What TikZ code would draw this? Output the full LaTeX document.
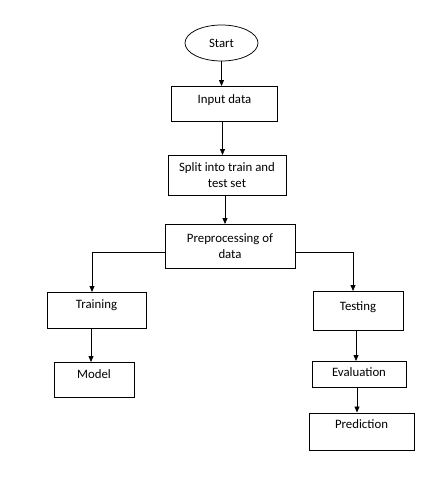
\documentclass[tikz,border=0pt]{standalone}
\usepackage{fontspec}
\setmainfont{Carlito}
\usetikzlibrary{arrows.meta,shapes.geometric}

\begin{document}
\begin{tikzpicture}[x=1pt,y=-1pt,
        box/.style={draw, line width=0.75pt, anchor=north, inner xsep=2pt, inner ysep=0pt, align=center, font=\fontsize{12.8}{16}\selectfont},
        arr/.style={-{Triangle[width=5pt,length=6pt]}, line width=0.75pt}]
        \useasboundingbox (0,0) rectangle (442,479);
        \node [ellipse, draw, line width=0.75pt, minimum width=73pt, minimum height=36pt, inner sep=0pt, font=\fontsize{12.8}{16}\selectfont] (start) at (221.5,43) {Start};
        \node [box, minimum width=106pt, text height=17pt, text depth=18pt] (input) at (224.5,86) {Input data};
        \node [box, minimum width=118pt, minimum height=40pt] (split) at (227,155) {Split into train and\\test set};
        \node [box, minimum width=130pt, minimum height=44pt] (pre) at (230,224) {Preprocessing of\\data};
        \node [box, minimum width=99pt, text height=16pt, text depth=20pt] (train) at (96.5,292) {Training};
        \node [box, minimum width=80pt, text height=16pt, text depth=19pt] (model) at (94,362) {Model};
        \node [box, minimum width=90pt, text height=19pt, text depth=20pt] (test) at (358,291) {Testing};
        \node [box, minimum width=94pt, text height=15pt, text depth=11pt] (eval) at (359,361) {Evaluation};
        \node [box, minimum width=105pt, text height=15.5pt, text depth=22pt] (pred) at (361.5,412.5) {Prediction};
        \draw [arr] (start.south) -- (start.south |- input.north);
        \draw [arr] ([xshift=-2pt]input.south) -- ([xshift=-2pt]input.south |- split.north);
        \draw [arr] ([xshift=-2pt]split.south) -- ([xshift=-2pt]split.south |- pre.north);
        \draw [arr] ([yshift=-6pt]pre.west) -| ([xshift=-4.5pt]train.north);
        \draw [arr] ([yshift=-6pt]pre.east) -| ([xshift=-5pt]test.north);
        \draw [arr] ([xshift=-5.5pt]train.south) -- ([xshift=-5.5pt]train.south |- model.north);
        \draw [arr] ([xshift=-2pt]test.south) -- ([xshift=-2pt]test.south |- eval.north);
        \draw [arr] ([xshift=-2pt]eval.south) -- ([xshift=-2pt]eval.south |- pred.north);
\end{tikzpicture}
\end{document}
